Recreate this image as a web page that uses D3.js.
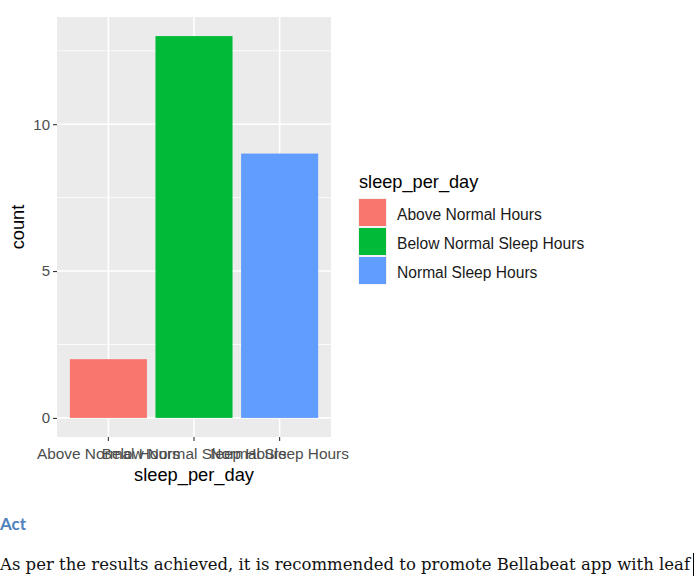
<!DOCTYPE html>
<html>
<head>
<meta charset="utf-8">
<script src="https://cdn.jsdelivr.net/npm/d3@7"></script>
<style>
  body { margin: 0; background: #fff; }
  svg { display: block; }
</style>
</head>
<body>
<svg id="chart"></svg>
<script>
const categories = ["Above Normal Hours", "Below Normal Sleep Hours", "Normal Sleep Hours"];
const counts = [2, 13, 9];
const fills = ["#F8766D", "#00BA38", "#619CFF"];
const yTicks = [0, 5, 10];
const yMinor = [2.5, 7.5, 12.5];

const width = 700, height = 583;
const panel = { left: 57, right: 331, top: 17, bottom: 437 };
const font = "'Liberation Sans', Arial, sans-serif";

const svg = d3.select("#chart").attr("width", width).attr("height", height);

// ggplot-like discrete scale: 0.6 step expansion each side, bar width 0.9
const x = d3.scaleBand()
    .domain(categories)
    .range([panel.left, panel.right])
    .paddingInner(0.1)
    .paddingOuter(0.15);

const maxCount = d3.max(counts);
const y = d3.scaleLinear()
    .domain([-0.05 * maxCount, maxCount * 1.05])
    .range([panel.bottom, panel.top]);

// panel
svg.append("rect")
    .attr("x", panel.left).attr("y", panel.top)
    .attr("width", panel.right - panel.left)
    .attr("height", panel.bottom - panel.top)
    .attr("fill", "#EBEBEB");

svg.append("g").selectAll("line")
    .data(yMinor)
    .enter().append("line")
    .attr("x1", panel.left).attr("x2", panel.right)
    .attr("y1", d => y(d)).attr("y2", d => y(d))
    .attr("stroke", "#fff").attr("stroke-width", 0.8);

svg.append("g").selectAll("line")
    .data(yTicks)
    .enter().append("line")
    .attr("x1", panel.left).attr("x2", panel.right)
    .attr("y1", d => y(d)).attr("y2", d => y(d))
    .attr("stroke", "#fff").attr("stroke-width", 1.6);

svg.append("g").selectAll("line")
    .data(categories)
    .enter().append("line")
    .attr("x1", d => x(d) + x.bandwidth() / 2).attr("x2", d => x(d) + x.bandwidth() / 2)
    .attr("y1", panel.top).attr("y2", panel.bottom)
    .attr("stroke", "#fff").attr("stroke-width", 1.6);

// bars
svg.append("g").selectAll("rect")
    .data(categories)
    .enter().append("rect")
    .attr("x", d => x(d))
    .attr("width", x.bandwidth())
    .attr("y", (d, i) => y(counts[i]))
    .attr("height", (d, i) => y(0) - y(counts[i]))
    .attr("fill", (d, i) => fills[i]);

// axes
const yAxis = svg.append("g")
    .attr("transform", `translate(${panel.left},0)`)
    .call(d3.axisLeft(y).tickValues(yTicks).tickSize(4).tickPadding(3));
yAxis.select(".domain").remove();
yAxis.selectAll(".tick line").attr("stroke", "#333").attr("stroke-width", 1.1);
yAxis.selectAll(".tick text")
    .attr("fill", "#4D4D4D").style("font-family", font).style("font-size", "15px");

// overlapping tick labels are kept as in the original figure
const xAxis = svg.append("g")
    .attr("transform", `translate(0,${panel.bottom})`)
    .call(d3.axisBottom(x).tickSize(4).tickPadding(7));
xAxis.select(".domain").remove();
xAxis.selectAll(".tick line").attr("stroke", "#333").attr("stroke-width", 1.1);
xAxis.selectAll(".tick text")
    .attr("fill", "#4D4D4D").style("font-family", font).style("font-size", "15.4px");

svg.append("text")
    .attr("x", (panel.left + panel.right) / 2).attr("y", 481)
    .attr("text-anchor", "middle")
    .style("font-family", font).style("font-size", "18.3px")
    .text("sleep_per_day");

svg.append("text")
    .attr("transform", `translate(24,${(panel.top + panel.bottom) / 2}) rotate(-90)`)
    .attr("text-anchor", "middle")
    .style("font-family", font).style("font-size", "18.3px")
    .text("count");

// legend
const legend = svg.append("g").attr("transform", "translate(358,0)");
legend.append("text")
    .attr("x", 1).attr("y", 188)
    .style("font-family", font).style("font-size", "18.2px")
    .text("sleep_per_day");

const keys = legend.selectAll("g.key")
    .data(categories)
    .enter().append("g")
    .attr("class", "key")
    .attr("transform", (d, i) => `translate(0,${198 + i * 29})`);
keys.append("rect")
    .attr("x", 0.5).attr("y", 0.5)
    .attr("width", 28).attr("height", 28)
    .attr("fill", (d, i) => fills[i])
    .attr("stroke", "#F2F2F2").attr("stroke-width", 1);
keys.append("text")
    .attr("x", 39).attr("y", 21.5)
    .style("font-family", font).style("font-size", "15.6px")
    .attr("fill", "#1a1a1a")
    .text(d => d);

// document text below the figure
svg.append("text")
    .attr("x", 0).attr("y", 530)
    .style("font-family", "Lato, 'Open Sans', sans-serif")
    .style("font-weight", "bold").style("font-size", "17px")
    .attr("fill", "#4F81BD")
    .text("Act");

svg.append("text")
    .attr("x", 0).attr("y", 570)
    .style("font-family", "'DejaVu Serif', serif").style("font-size", "17.5px")
    .attr("textLength", 690).attr("lengthAdjust", "spacingAndGlyphs")
    .attr("fill", "#111")
    .text("As per the results achieved, it is recommended to promote Bellabeat app with leaf");

svg.append("line")
    .attr("x1", 693.5).attr("x2", 693.5).attr("y1", 553).attr("y2", 576)
    .attr("stroke", "#000").attr("stroke-width", 1);
</script>
</body>
</html>
